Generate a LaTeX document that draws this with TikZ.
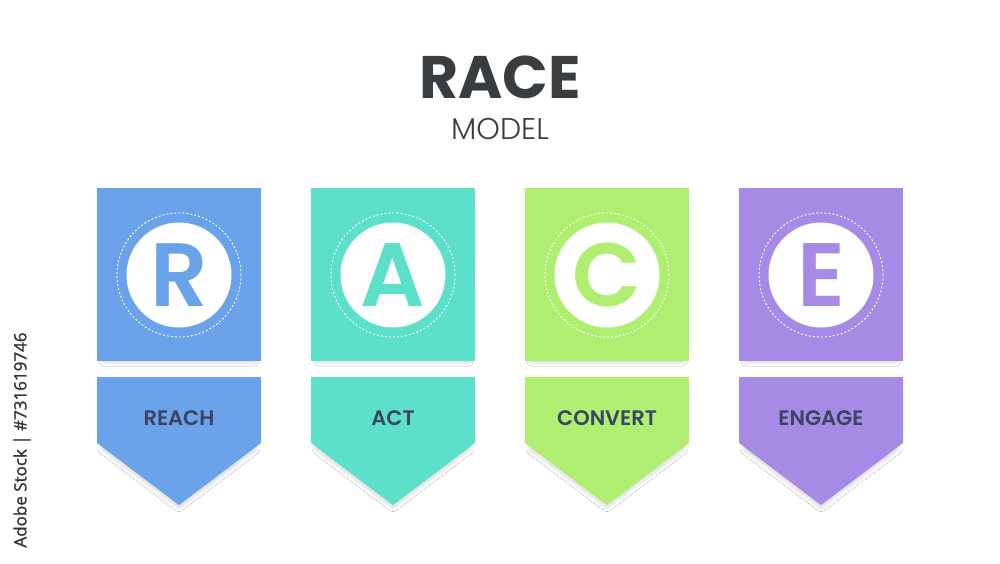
\documentclass[tikz,border=0pt]{standalone}
\usepackage{fontspec}
\setmainfont{Poppins}
\newfontfamily\popbold{Poppins}[UprightFont=* Bold]
\newfontfamily\popsemi{Poppins}[UprightFont=* SemiBold]
\newfontfamily\poplight{Poppins}[UprightFont=* Light]
\newfontfamily\wmfont{Open Sans}[FakeBold=1.2]
\usetikzlibrary{shadows.blur}
\definecolor{cR}{HTML}{6AA3EA}
\definecolor{cA}{HTML}{5CE0C9}
\definecolor{cC}{HTML}{B0EE72}
\definecolor{cE}{HTML}{A78AE6}
\definecolor{titlec}{HTML}{3A3D40}
\definecolor{labelc}{HTML}{3B4562}
\tikzset{
  sq/.style={inner sep=0pt, minimum width=164pt, minimum height=173pt, blur shadow={shadow xshift=0pt, shadow yshift=-8pt, shadow scale=0.92, shadow blur radius=5pt, shadow blur steps=10, shadow opacity=22}},
  tab/.style={blur shadow={shadow xshift=0pt, shadow yshift=-7pt, shadow scale=0.93, shadow blur radius=5pt, shadow blur steps=10, shadow opacity=18}},
  disc/.style={circle, fill=white, inner sep=0pt, minimum size=105pt},
  ring/.style={circle, draw=white, line width=0.9pt, dash pattern=on 2pt off 2pt, inner sep=0pt, minimum size=124pt},
  bigletter/.style={font=\popsemi\fontsize{90}{90}\selectfont},
  lbl/.style={font=\popsemi\fontsize{21}{21}\selectfont, text=labelc},
}
\begin{document}
\begin{tikzpicture}[x=1pt,y=-1pt]
\useasboundingbox (0,0) rectangle (1000,563);
\fill[white] (0,0) rectangle (1000,563);
\node[font=\popbold\fontsize{60}{60}\selectfont, text=titlec] (title) at (500,77) {RACE};
\node[font=\poplight\fontsize{30}{30}\selectfont, text=titlec] (sub) at (500,129) {MODEL};
\foreach \cx/\col/\L/\lab/\n in {179/cR/R/REACH/1, 393/cA/A/ACT/2, 607/cC/C/CONVERT/3, 821/cE/E/ENGAGE/4}{
  \fill[\col, tab]
    (\cx-82,377) -- (\cx+82,377) -- (\cx+82,443) -- (\cx,505) -- (\cx-82,443) -- cycle;
  \node[sq, fill=\col] (sq\n) at (\cx,274.5) {};
  \node[disc] (disc\n) at (\cx,275) {};
  \node[ring] (ring\n) at (\cx,275) {};
  \node[bigletter, text=\col] (let\n) at (\cx,275) {\L};
  \node[lbl] (lab\n) at (\cx,418) {\lab};
}
\node[rotate=90, font=\wmfont\fontsize{17}{17}\selectfont, text=black!80] (wm) at (22,440) {Adobe Stock | \#731619746};
\end{tikzpicture}
\end{document}
